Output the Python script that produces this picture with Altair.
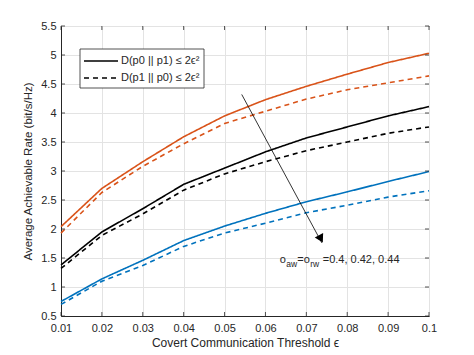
import altair as alt
import pandas as pd

x_vals = [0.01, 0.02, 0.03, 0.04, 0.05, 0.06, 0.07, 0.08, 0.09, 0.10]
orange_solid = [2.04, 2.70, 3.16, 3.59, 3.95, 4.23, 4.46, 4.67, 4.87, 5.03]
orange_dashed = [1.93, 2.63, 3.08, 3.47, 3.82, 4.03, 4.24, 4.40, 4.52, 4.64]
black_solid = [1.38, 1.95, 2.35, 2.77, 3.05, 3.33, 3.57, 3.76, 3.95, 4.11]
black_dashed = [1.32, 1.89, 2.26, 2.67, 2.95, 3.16, 3.35, 3.50, 3.65, 3.76]
blue_solid = [0.75, 1.14, 1.46, 1.80, 2.05, 2.27, 2.47, 2.64, 2.82, 2.99]
blue_dashed = [0.70, 1.10, 1.37, 1.70, 1.93, 2.10, 2.28, 2.41, 2.55, 2.66]

legend_labels = ["D(p0 || p1) \u2264 2\u03f5\u00b2", "D(p1 || p0) \u2264 2\u03f5\u00b2"]
x_ticks = [0.01, 0.02, 0.03, 0.04, 0.05, 0.06, 0.07, 0.08, 0.09, 0.1]
y_ticks = [0.5, 1.0, 1.5, 2.0, 2.5, 3.0, 3.5, 4.0, 4.5, 5.0, 5.5]

series = [
    ("o", legend_labels[0], orange_solid),
    ("o", legend_labels[1], orange_dashed),
    ("k", legend_labels[0], black_solid),
    ("k", legend_labels[1], black_dashed),
    ("b", legend_labels[0], blue_solid),
    ("b", legend_labels[1], blue_dashed),
]
rows = []
for grp, kind, vals in series:
    for xv, yv in zip(x_vals, vals):
        rows.append({"eps": xv, "rate": yv, "grp": grp, "kind": kind, "sid": grp + kind})
df = pd.DataFrame(rows)

xs = alt.Scale(domain=[0.01, 0.1], nice=False, zero=False)
ys = alt.Scale(domain=[0.5, 5.5], nice=False, zero=False)

FONT = "Liberation Sans"
TXT = "#262626"
DASH = [5, 4]

ax_x = alt.Axis(values=x_ticks, labelExpr="format(datum.value, '.2~f')",
                title="Covert Communication Threshold \u03f5",
                grid=True, gridColor="#e3e3e3", ticks=False, domainColor=TXT,
                labelOverlap=False, labelBound=False, labelFlush=False,
                labelFont=FONT, labelFontSize=11, labelColor=TXT, labelPadding=6,
                titleFont=FONT, titleFontSize=12, titleColor=TXT, titleFontWeight="normal",
                titlePadding=4)
ax_y = alt.Axis(values=y_ticks, labelExpr="format(datum.value, '.1~f')",
                title="Average Achievable Rate (bit/s/Hz)",
                grid=True, gridColor="#e3e3e3", ticks=False, domainColor=TXT,
                labelOverlap=False, labelBound=False, labelFlush=False,
                labelFont=FONT, labelFontSize=11, labelColor=TXT, labelPadding=5,
                titleFont=FONT, titleFontSize=11.5, titleColor=TXT, titleFontWeight="normal",
                titlePadding=7)


def X(field):
    return alt.X(field, scale=xs, axis=ax_x)


def Y(field):
    return alt.Y(field, scale=ys, axis=ax_y)


lines = alt.Chart(df).mark_line(strokeWidth=1.6).encode(
    x=X("eps:Q"),
    y=Y("rate:Q"),
    color=alt.Color("grp:N", scale=alt.Scale(domain=["o", "k", "b"], range=["#D95319", "#000000", "#0072BD"]),
                    legend=None),
    strokeDash=alt.StrokeDash("kind:N",
                              scale=alt.Scale(domain=legend_labels, range=[[1, 0], DASH]),
                              legend=None),
    detail="sid:N",
)

# inward ticks
xt = pd.DataFrame({"eps": x_ticks})
yt = pd.DataFrame({"rate": y_ticks})
tk = "#262626"
xb = alt.Chart(xt).mark_rule(color=tk, strokeWidth=0.8).encode(
    x=X("eps:Q"), y=alt.value(290), y2=alt.value(286))
xtop = alt.Chart(xt).mark_rule(color=tk, strokeWidth=0.8).encode(
    x=X("eps:Q"), y=alt.value(0), y2=alt.value(4))
yl = alt.Chart(yt).mark_rule(color=tk, strokeWidth=0.8).encode(
    y=Y("rate:Q"), x=alt.value(0), x2=alt.value(4))
yr = alt.Chart(yt).mark_rule(color=tk, strokeWidth=0.8).encode(
    y=Y("rate:Q"), x=alt.value(368), x2=alt.value(364))

# legend (drawn manually)
leg_box = alt.Chart(pd.DataFrame({"a": [0]})).mark_rect(
    fill="white", stroke=TXT, strokeWidth=0.8).encode(
    x=alt.value(19), x2=alt.value(143), y=alt.value(23), y2=alt.value(62))
leg_layers = [leg_box]
for i, (lab, dash) in enumerate(zip(legend_labels, [[1, 0], DASH])):
    yy = 35 + 17 * i
    ln = alt.Chart(pd.DataFrame({"a": [0]})).mark_rule(
        color="black", strokeWidth=1.6, strokeDash=dash).encode(
        x=alt.value(23), x2=alt.value(57), y=alt.value(yy))
    tx = alt.Chart(pd.DataFrame({"s": [lab]})).mark_text(
        align="left", baseline="middle", font=FONT, fontSize=11, color=TXT).encode(
        x=alt.value(60), y=alt.value(yy), text="s:N")
    leg_layers += [ln, tx]

# arrow annotation
arrow_start = {"eps": 0.0542, "rate": 4.32}
arrow_end = {"eps": 0.0738, "rate": 1.76}
arr = pd.DataFrame([{"eps": arrow_start["eps"], "rate": arrow_start["rate"],
                     "eps2": arrow_end["eps"], "rate2": arrow_end["rate"]}])
arrow_line = alt.Chart(arr).mark_rule(color="#000000", strokeWidth=0.8).encode(
    x=X("eps:Q"), y=Y("rate:Q"), x2="eps2:Q", y2="rate2:Q")
head = pd.DataFrame([{"eps": 0.0734, "rate": 1.85}])
arrow_head = alt.Chart(head).mark_point(shape="triangle", angle=152, filled=True, color="black",
                                        size=90, opacity=1).encode(
    x=X("eps:Q"), y=Y("rate:Q"))

# label with subscripts
lab_x = 0.0635
lab_y = 1.46
parts = [
    ("o", 0, 0, 11),
    ("aw", 6.5, 4, 8.5),
    ("=o", 17.5, 0, 11),
    ("rw", 30.5, 4, 8.5),
    ("=0.4, 0.42, 0.44", 43, 0, 11),
]
text_layers = []
for s, dx, dy, fs in parts:
    t = alt.Chart(pd.DataFrame([{"eps": lab_x, "rate": lab_y, "s": s}])).mark_text(
        align="left", baseline="middle", dx=dx, dy=dy, fontSize=fs, font=FONT, color=TXT).encode(
        x=X("eps:Q"), y=Y("rate:Q"), text="s:N")
    text_layers.append(t)

chart = alt.layer(lines, xb, xtop, yl, yr, arrow_line, arrow_head, *text_layers, *leg_layers).properties(
    width=368, height=290,
    padding={"left": 61, "top": 26, "right": 45, "bottom": 39},
    autosize=alt.AutoSizeParams(type="none"),
    background="white",
).configure_view(stroke=TXT, strokeWidth=1)

chart.save("out.html", embed_options={"renderer": "svg", "actions": False})
